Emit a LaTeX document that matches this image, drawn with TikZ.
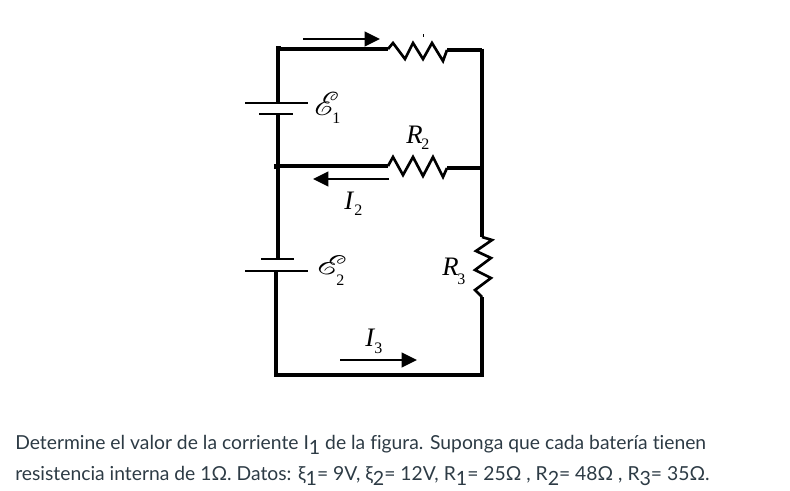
\documentclass[tikz,border=0pt]{standalone}
\usepackage{fontspec}
\usepackage{mathrsfs}
\setmainfont{Lato}[RawFeature={-liga;-dlig}]
\newfontfamily\timesf{Liberation Serif}
\usetikzlibrary{arrows.meta}
\definecolor{bodytext}{HTML}{2D3B45}
\newcommand{\lowsub}[1]{\raisebox{-0.3em}{\fontsize{14.7}{16}\selectfont #1}}
\tikzset{
  wire/.style={line width=2.6pt,line cap=butt,line join=miter},
  zig/.style={line width=2pt,line join=miter},
  plate/.style={line width=1.3pt},
  current/.style={line width=1.3pt,-{Triangle[length=11.5pt,width=11pt]}},
  sym/.style={inner sep=0pt,font=\timesf\itshape\fontsize{20}{22}\selectfont,anchor=base west},
  sub/.style={inner sep=0pt,font=\timesf\fontsize{12}{14}\selectfont,anchor=base west},
  emf/.style={inner sep=0pt,font=\fontsize{23}{25}\selectfont,anchor=base west},
  body/.style={inner sep=0pt,anchor=base west,text=bodytext,font=\fontsize{14.48}{17}\selectfont}
}
\begin{document}
\begin{tikzpicture}[x=0.75pt,y=-0.75pt]
\useasboundingbox (0,0) rectangle (790,490);
% junctions and terminals
\coordinate (tl) at (278,49);
\coordinate (r1a) at (388,49);
\coordinate (r1b) at (447,50);
\coordinate (tr) at (482,50);
\coordinate (b1p) at (278,103);
\coordinate (b1n) at (278,114);
\coordinate (j) at (278,166);
\coordinate (r2a) at (388,166);
\coordinate (r2b) at (447,168);
\coordinate (jr) at (482,168);
\coordinate (b2p) at (278,259);
\coordinate (b2n) at (276,271);
\coordinate (r3a) at (482,237);
\coordinate (r3b) at (482,297);
\coordinate (bl) at (275,375);
\coordinate (br) at (483.5,375);
% wires
\draw[wire] (b1p) -- (tl);
\draw[wire] (tl) -- (r1a);
\draw[wire] (r1b) -- (tr);
\draw[wire] (482,48.5) -- (r3a);
\draw[wire] (b1n) -- (j);
\draw[wire] (j) -- (b2p);
\draw[wire] (j) -- (r2a);
\draw[wire] (r2b) -- (jr);
\draw[wire] (b2n) -- (276,377);
\draw[wire] (bl) -- (br);
\draw[wire] (r3b) -- (482,375);
\fill (274,163.5) rectangle (280,169);
\fill (276,46) rectangle (281,51);
% resistors
\draw[zig] (r1a) -- (393,43) -- (405,59) -- (413,43) -- (423,59) -- (432,43) -- (443,61) -- (r1b);
\draw[zig] (r2a) -- (393,157) -- (403,175) -- (413,157) -- (423,176) -- (433,157) -- (443,177) -- (r2b);
\draw[zig] (r3a) -- (492,240) -- (476,251) -- (491,258) -- (475,270) -- (491,278) -- (475,290) -- (r3b);
\draw[line width=0.7pt] (423,34) -- (423,36.5);
% batteries
\draw[plate] (245,103) -- (308,103);
\draw[plate] (259,114) -- (293,114);
\draw[plate] (261,259) -- (294,259);
\draw[plate] (245,271) -- (308,271);
% current arrows
\coordinate (a1s) at (303,39); \coordinate (a1e) at (380,39);
\coordinate (a2s) at (389,179); \coordinate (a2e) at (313,179);
\coordinate (a3s) at (340,360); \coordinate (a3e) at (417,360);
\draw[current] (a1s) -- (a1e);
\draw[current] (a2s) -- (a2e);
\draw[current] (a3s) -- (a3e);
% labels
\node[emf] (e1) at (314,115) {$\mathscr{E}$};
\node[sub] (e1s) at (332,123) {1};
\node[emf,rotate=-20] (e2) at (316,271) {$\mathscr{E}$};
\node[sub] (e2s) at (336,285) {2};
\node[sym] (r2) at (406,143) {R};
\node[sub] (r2s) at (421,149) {2};
\node[sym] (r3) at (442,275) {R};
\node[sub] (r3s) at (457,284) {3};
\node[sym] (i2) at (344,209) {I};
\node[sub] (i2s) at (354,215) {2};
\node[sym] (i3) at (365,346) {I};
\node[sub] (i3s) at (374,353) {3};
% statement
\node[body] (l1) at (15,449) {Determine el valor de la corriente I\lowsub{1} de la figura. Suponga que cada batería tienen};
\node[body] (l2) at (15,480) {resistencia interna de 1Ω. Datos: ξ\lowsub{1}= 9V, ξ\lowsub{2}= 12V, R\lowsub{1}= 25Ω , R\lowsub{2}= 48Ω , R\lowsub{3}= 35Ω.};
\end{tikzpicture}
\end{document}
